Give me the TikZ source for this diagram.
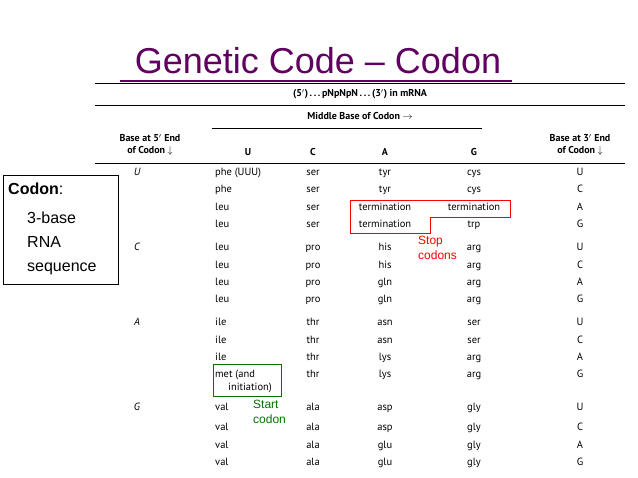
\documentclass[tikz,border=0pt]{standalone}
\usepackage{fontspec}
\setmainfont{Liberation Sans}
\newfontfamily\tabfont{PT Sans}
\begin{document}
\begin{tikzpicture}[x=1pt,y=-1pt,
  t/.style={font=\tabfont\fontsize{10.5}{11}\selectfont,inner sep=0pt,anchor=base},
  tl/.style={t,anchor=base west},
  h/.style={font=\tabfont\bfseries\fontsize{10}{12}\selectfont,inner sep=0pt,align=center},
  rule/.style={line width=0.7pt},
  side/.style={font=\fontsize{16}{18}\selectfont,inner sep=0pt,anchor=base west}]
\useasboundingbox (0,0) rectangle (638,478);
\node[font=\fontsize{36}{38}\selectfont,text=violet!75!black,inner sep=0pt,anchor=base] (title) at (318,74) {Genetic Code -- Codon};
\draw[violet!75!black,line width=2pt] (120,81) -- (512,81);
\draw[rule] (95,83) -- (625,83);
\draw[rule] (95,105) -- (625,105);
\draw[rule] (212,128) -- (482,128);
\draw[rule] (95,163) -- (625,163);
\node[h] (hd) at (360,94) {(5$'$)\,.\,.\,.\,pNpNpN\,.\,.\,.\,(3$'$) in mRNA};
\node[h] (mid) at (360,116) {Middle Base of Codon $\rightarrow$};
\node[h] (b5) at (150,145) {Base at 5$'$ End\\of Codon $\downarrow$};
\node[h] (b3) at (580,145) {Base at 3$'$ End\\of Codon $\downarrow$};
\node[h] (cu) at (248,152) {U};
\node[h] (cc) at (313,152) {C};
\node[h] (ca) at (385,152) {A};
\node[h] (cg) at (474,152) {G};
\foreach \b/\y in {U/176,C/251,A/326,G/411}
  \node[t,font=\tabfont\itshape\fontsize{10.5}{11}\selectfont] at (137,\y) {\b};
\foreach \y/\u/\c/\a/\g/\e in {
 176/phe (UUU)/ser/tyr/cys/U, 193/phe/ser/tyr/cys/C,
 211/leu/ser/termination/termination/A, 228/leu/ser/termination/trp/G,
 251/leu/pro/his/arg/U, 269/leu/pro/his/arg/C, 286/leu/pro/gln/arg/A, 303/leu/pro/gln/arg/G,
 326/ile/thr/asn/ser/U, 344/ile/thr/asn/ser/C, 361/ile/thr/lys/arg/A, 378/met (and/thr/lys/arg/G,
 411/val/ala/asp/gly/U, 431/val/ala/asp/gly/C, 449/val/ala/glu/gly/A, 466/val/ala/glu/gly/G}{
  \node[tl] at (215,\y) {\u};
  \node[t] at (313,\y) {\c};
  \node[t] at (385,\y) {\a};
  \node[t] at (474,\y) {\g};
  \node[t] at (580,\y) {\e};
}
\node[tl] (init) at (228,391) {initiation)};
\draw[red,line width=0.8pt] (350,200) -- (510,200) -- (510,217) -- (430,217) -- (430,233) -- (350,233) -- cycle;
\node[red,font=\fontsize{12}{15}\selectfont,align=left,inner sep=0pt,anchor=north west] (stop) at (418,236) {Stop\\codons};
\draw[green!45!black,line width=0.8pt] (213,364) rectangle (281,396);
\node[green!45!black,font=\fontsize{12}{15}\selectfont,align=left,inner sep=0pt,anchor=north west] (start) at (253,400) {Start\\codon};
\draw[line width=0.6pt] (3,175) rectangle (118,284);
\node[side] (cod) at (8,195) {\textbf{Codon}:};
\node[side] at (27,224) {3-base};
\node[side] at (27,248) {RNA};
\node[side] at (27,272) {sequence};
\end{tikzpicture}
\end{document}
